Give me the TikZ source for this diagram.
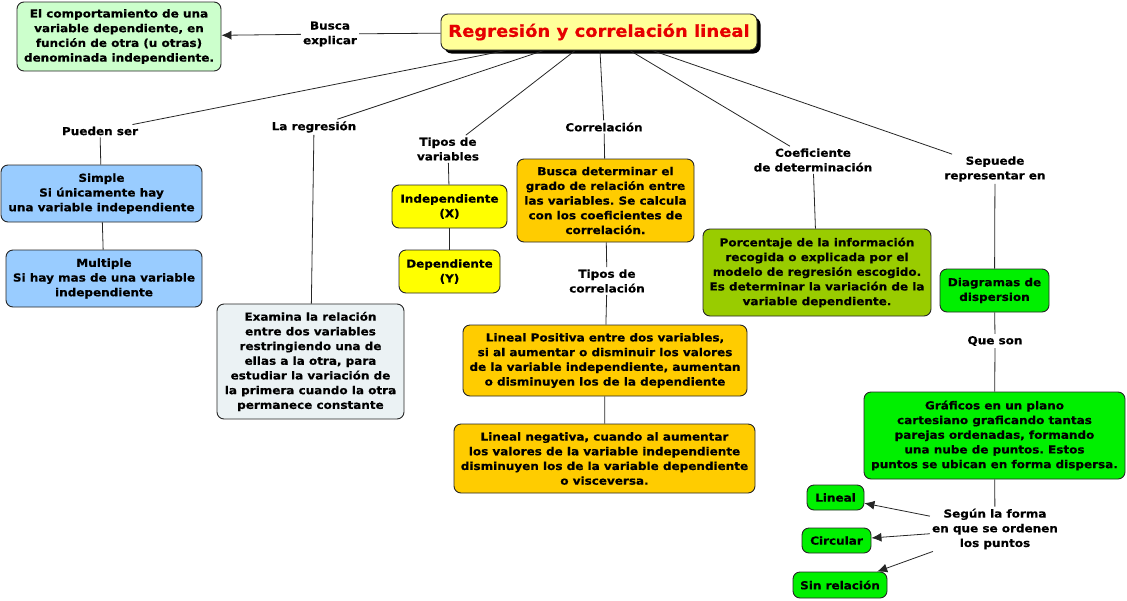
\documentclass[tikz,border=0pt]{standalone}
\usepackage{fontspec}
\setmainfont{DejaVu Sans}[FakeStretch=1.09, BoldFeatures={FakeStretch=1.09, FakeBold=0.5}]
\frenchspacing
\usetikzlibrary{arrows.meta,shadows}
\definecolor{titlefill}{HTML}{FFFF99}
\definecolor{titletext}{HTML}{E60000}
\definecolor{lgreen}{HTML}{CCFFCC}
\definecolor{lblue}{HTML}{99CCFF}
\definecolor{lgray}{HTML}{EBF2F4}
\definecolor{yel}{HTML}{FFFF00}
\definecolor{orng}{HTML}{FFCC00}
\definecolor{olive}{HTML}{99CC00}
\definecolor{bgreen}{HTML}{00F000}
\tikzset{
  box/.style={draw=black!85, line width=0.9pt, rounded corners=7pt, align=center,
    font=\bfseries\fontsize{11}{14.7}\selectfont, inner sep=0pt},
  lbl/.style={align=center, font=\bfseries\fontsize{11}{14.7}\selectfont, inner sep=2pt},
  conn/.style={draw=black!85, line width=0.8pt},
  arr/.style={conn, -{Latex[length=10pt,width=9pt]}},
}
\begin{document}
\begin{tikzpicture}[x=1pt,y=-1pt]
\useasboundingbox (0,0) rectangle (1127,600);
% title
\node[box, fill=titlefill, minimum width=316pt, minimum height=36pt,
  font=\bfseries\fontsize{16.5}{20}\selectfont, text=titletext,
  drop shadow={shadow xshift=3.5pt, shadow yshift=-3.5pt, fill=black, opacity=1}]
  (title) at (599,32) {Regresión y correlación lineal};
% boxes
\node[box, fill=lgreen, minimum width=204pt, minimum height=69pt] (b1) at (119,36.5)
  {El comportamiento de una\\variable dependiente, en\\función de otra (u otras)\\denominada independiente.};
\node[box, fill=lblue, minimum width=201pt, minimum height=57pt] (simple) at (101.5,193.5)
  {Simple\\Si únicamente hay\\una variable independiente};
\node[box, fill=lblue, minimum width=196pt, minimum height=57pt] (multiple) at (104,278.5)
  {Multiple\\Si hay mas de una variable\\independiente};
\node[box, fill=lgray, minimum width=187pt, minimum height=115pt] (examina) at (310.5,361.5)
  {Examina la relación\\entre dos variables\\restringiendo una de\\ellas a la otra, para\\estudiar la variación de\\la primera cuando la otra\\permanece constante};
\node[box, fill=yel, minimum width=115pt, minimum height=43pt] (indep) at (449.5,206.5)
  {Independiente\\(X)};
\node[box, fill=yel, minimum width=101pt, minimum height=43pt] (dep) at (449.5,271.5)
  {Dependiente\\(Y)};
\node[box, fill=orng, minimum width=177pt, minimum height=83pt] (busca) at (605.5,200.5)
  {Busca determinar el\\grado de relación entre\\las variables. Se calcula\\con los coeficientes de\\correlación.};
\node[box, fill=orng, minimum width=284pt, minimum height=71pt] (linpos) at (605,360.5)
  {Lineal Positiva entre dos variables,\\si al aumentar o disminuir los valores\\de la variable independiente, aumentan\\o disminuyen los de la dependiente};
\node[box, fill=orng, minimum width=301pt, minimum height=69pt] (linneg) at (604.5,458.5)
  {Lineal negativa, cuando al aumentar\\los valores de la variable independiente\\disminuyen los de la variable dependiente\\o visceversa.};
\node[box, fill=olive, minimum width=228pt, minimum height=87pt] (porc) at (817,272.5)
  {Porcentaje de la información\\recogida o explicada por el\\modelo de regresión escogido.\\Es determinar la variación de la\\variable dependiente.};
\node[box, fill=bgreen, minimum width=109pt, minimum height=43pt] (diag) at (994.5,290.5)
  {Diagramas de\\dispersion};
\node[box, fill=bgreen, minimum width=261pt, minimum height=87pt] (graf) at (994.5,435.5)
  {Gráficos en un plano\\cartesiano graficando tantas\\parejas ordenadas, formando\\una nube de puntos. Estos\\puntos se ubican en forma dispersa.};
\node[box, fill=bgreen, minimum width=57pt, minimum height=25pt] (lineal) at (835.5,497.5) {Lineal};
\node[box, fill=bgreen, minimum width=69pt, minimum height=25pt] (circ) at (836.5,540.5) {Circular};
\node[box, fill=bgreen, minimum width=94pt, minimum height=26pt] (sinrel) at (840,585) {Sin relación};
% labels
\node[lbl] (busexp) at (330,34) {Busca\\explicar};
\node[lbl] (pueden) at (100,131) {Pueden ser};
\node[lbl] (lareg) at (314,127) {La regresión};
\node[lbl] (tiposvar) at (448,149) {Tipos de\\variables};
\node[lbl] (correl) at (604,127) {Correlación};
\node[lbl] (tiposcorr) at (607,281) {Tipos de\\correlación};
\node[lbl] (coef) at (813,160) {Coeficiente\\de determinación};
\node[lbl] (sepuede) at (995,169) {Sepuede\\representar en};
\node[lbl] (queson) at (995,341) {Que son};
\node[lbl] (segun) at (995,529) {Según la forma\\en que se ordenen\\los puntos};
% connectors
\draw[conn] (title) -- (busexp);
\draw[arr] (busexp) -- (b1);
\draw[conn] (title) -- (pueden);
\draw[conn] (pueden) -- (simple);
\draw[conn] (simple) -- (multiple);
\draw[conn] (title) -- (lareg);
\draw[conn] (lareg) -- (examina);
\draw[conn] (title) -- (tiposvar);
\draw[conn] (tiposvar) -- (indep);
\draw[conn] (indep) -- (dep);
\draw[conn] (title) -- (correl);
\draw[conn] (correl) -- (busca);
\draw[conn] (busca) -- (tiposcorr);
\draw[conn] (tiposcorr) -- (linpos);
\draw[conn] (linpos) -- (linneg);
\draw[conn] (title) -- (coef);
\draw[conn] (coef) -- (porc);
\draw[conn] (title) -- (sepuede);
\draw[conn] (sepuede) -- (diag);
\draw[conn] (diag) -- (queson);
\draw[conn] (queson) -- (graf);
\draw[conn] (graf) -- (segun);
\draw[arr] (segun) -- (lineal);
\draw[arr] (segun) -- (circ);
\draw[arr] (segun) -- (sinrel);
\end{tikzpicture}
\end{document}
